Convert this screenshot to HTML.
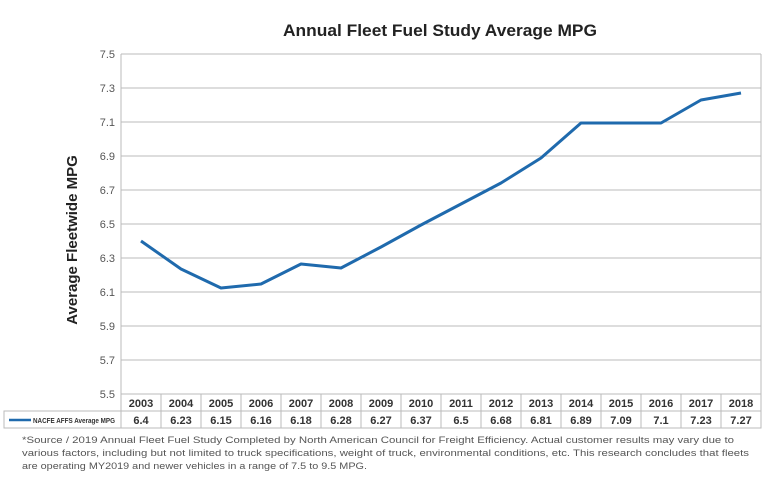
<!DOCTYPE html>
<html><head><style>
body{margin:0;background:#fff;width:770px;height:481px;overflow:hidden;font-family:"Liberation Sans",sans-serif}
</style></head><body>
<svg width="770" height="481" xmlns="http://www.w3.org/2000/svg" font-family="Liberation Sans, sans-serif">
<text x="440" y="36" text-anchor="middle" font-size="16.5" font-weight="bold" fill="#222" textLength="314" lengthAdjust="spacingAndGlyphs">Annual Fleet Fuel Study Average MPG</text>
<g stroke="#bbb" stroke-width="1">
<line x1="121" y1="54" x2="761" y2="54"/><line x1="121" y1="88" x2="761" y2="88"/>
<line x1="121" y1="122" x2="761" y2="122"/><line x1="121" y1="156" x2="761" y2="156"/>
<line x1="121" y1="190" x2="761" y2="190"/><line x1="121" y1="224" x2="761" y2="224"/>
<line x1="121" y1="258" x2="761" y2="258"/><line x1="121" y1="292" x2="761" y2="292"/>
<line x1="121" y1="326" x2="761" y2="326"/><line x1="121" y1="360" x2="761" y2="360"/>
<line x1="121" y1="54" x2="121" y2="428"/><line x1="761" y1="54" x2="761" y2="428"/>
</g>
<g font-size="11" fill="#555" text-anchor="end">
<text x="115" y="58">7.5</text><text x="115" y="92">7.3</text><text x="115" y="126">7.1</text>
<text x="115" y="160">6.9</text><text x="115" y="194">6.7</text><text x="115" y="228">6.5</text>
<text x="115" y="262">6.3</text><text x="115" y="296">6.1</text><text x="115" y="330">5.9</text>
<text x="115" y="364">5.7</text><text x="115" y="398">5.5</text>
</g>
<text transform="translate(77,240) rotate(-90)" text-anchor="middle" font-size="15" font-weight="bold" fill="#222">Average Fleetwide MPG</text>
<polyline fill="none" stroke="#1f6aad" stroke-width="3" stroke-linejoin="round" points="141,241 181,269 221,288 261,284 301,264 341,268 381,247 421,225 461,204 501,183 541,158 581,123 621,123 661,123 701,100 741,93"/>
<g stroke="#bbb" fill="none">
<rect x="4" y="411" width="757" height="17"/>
<line x1="121" y1="394" x2="761" y2="394"/>
</g>
<g stroke="#bbb">
<line x1="161" y1="394" x2="161" y2="428"/><line x1="201" y1="394" x2="201" y2="428"/><line x1="241" y1="394" x2="241" y2="428"/><line x1="281" y1="394" x2="281" y2="428"/><line x1="321" y1="394" x2="321" y2="428"/><line x1="361" y1="394" x2="361" y2="428"/><line x1="401" y1="394" x2="401" y2="428"/><line x1="441" y1="394" x2="441" y2="428"/><line x1="481" y1="394" x2="481" y2="428"/><line x1="521" y1="394" x2="521" y2="428"/><line x1="561" y1="394" x2="561" y2="428"/><line x1="601" y1="394" x2="601" y2="428"/><line x1="641" y1="394" x2="641" y2="428"/><line x1="681" y1="394" x2="681" y2="428"/><line x1="721" y1="394" x2="721" y2="428"/>
</g>
<g font-size="11" font-weight="bold" fill="#333" text-anchor="middle">
<text x="141" y="407">2003</text><text x="181" y="407">2004</text><text x="221" y="407">2005</text><text x="261" y="407">2006</text><text x="301" y="407">2007</text><text x="341" y="407">2008</text><text x="381" y="407">2009</text><text x="421" y="407">2010</text><text x="461" y="407">2011</text><text x="501" y="407">2012</text><text x="541" y="407">2013</text><text x="581" y="407">2014</text><text x="621" y="407">2015</text><text x="661" y="407">2016</text><text x="701" y="407">2017</text><text x="741" y="407">2018</text>
<text x="141" y="424">6.4</text><text x="181" y="424">6.23</text><text x="221" y="424">6.15</text><text x="261" y="424">6.16</text><text x="301" y="424">6.18</text><text x="341" y="424">6.28</text><text x="381" y="424">6.27</text><text x="421" y="424">6.37</text><text x="461" y="424">6.5</text><text x="501" y="424">6.68</text><text x="541" y="424">6.81</text><text x="581" y="424">6.89</text><text x="621" y="424">7.09</text><text x="661" y="424">7.1</text><text x="701" y="424">7.23</text><text x="741" y="424">7.27</text>
</g>
<line x1="9" y1="420" x2="31" y2="420" stroke="#1f6aad" stroke-width="2.5"/>
<text x="33" y="423" font-size="7.5" font-weight="bold" fill="#333" textLength="82" lengthAdjust="spacingAndGlyphs">NACFE AFFS Average MPG</text>
<g font-size="9.6" fill="#555">
<text x="22" y="443" textLength="712" lengthAdjust="spacingAndGlyphs">*Source / 2019 Annual Fleet Fuel Study Completed by North American Council for Freight Efficiency. Actual customer results may vary due to</text>
<text x="22" y="456" textLength="727" lengthAdjust="spacingAndGlyphs">various factors, including but not limited to truck specifications, weight of truck, environmental conditions, etc. This research concludes that fleets</text>
<text x="22" y="469" textLength="345" lengthAdjust="spacingAndGlyphs">are operating MY2019 and newer vehicles in a range of 7.5 to 9.5 MPG.</text>
</g>
</svg>
</body></html>
